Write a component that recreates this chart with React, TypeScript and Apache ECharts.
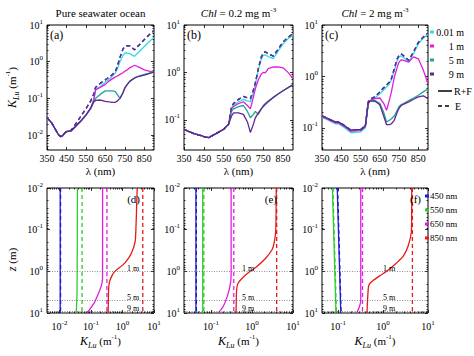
import React, { useEffect, useRef } from 'react';
import * as echarts from 'echarts';

const SERIF = "'Liberation Serif', 'Times New Roman', serif";

// ---------- top panels: spectra ----------
const LAMBDA = [350, 375, 400, 410, 420, 430, 440, 450, 460, 475, 500, 525, 550, 575, 590, 600, 625, 650, 670, 685, 700, 710, 725, 740, 750, 760, 775, 800, 825, 850, 875, 900];
const LAMBDA_TICKS = [350, 450, 550, 650, 750, 850];

// (a) pure seawater
const A_RF_001 = [0.030, 0.021, 0.0123, 0.010, 0.0091, 0.0094, 0.0112, 0.0123, 0.0127, 0.013, 0.0178, 0.0245, 0.035, 0.054, 0.09, 0.18, 0.21, 0.28, 0.33, 0.4, 0.48, 0.6, 1.0, 1.45, 1.7, 1.75, 1.65, 1.4, 1.9, 2.6, 3.5, 4.6];
const A_RF_1 = [0.030, 0.021, 0.0123, 0.010, 0.0091, 0.0094, 0.0112, 0.0123, 0.0127, 0.013, 0.0178, 0.0245, 0.035, 0.054, 0.09, 0.17, 0.2, 0.24, 0.3, 0.34, 0.38, 0.4, 0.45, 0.5, 0.55, 0.58, 0.68, 0.8, 0.7, 0.6, 0.55, 0.53];
const A_RF_5 = [0.030, 0.021, 0.0123, 0.010, 0.0091, 0.0094, 0.0112, 0.0123, 0.0127, 0.013, 0.0178, 0.0245, 0.035, 0.054, 0.08, 0.1, 0.13, 0.16, 0.16, 0.16, 0.155, 0.13, 0.1, 0.14, 0.19, 0.23, 0.29, 0.36, 0.41, 0.45, 0.49, 0.54];
const A_RF_9 = [0.030, 0.021, 0.0123, 0.010, 0.0091, 0.0094, 0.0112, 0.0123, 0.0127, 0.013, 0.0178, 0.0245, 0.035, 0.054, 0.08, 0.088, 0.09, 0.083, 0.08, 0.078, 0.078, 0.083, 0.1, 0.14, 0.19, 0.23, 0.29, 0.36, 0.4, 0.43, 0.47, 0.52];
const A_E = [0.030, 0.021, 0.0123, 0.010, 0.0091, 0.0094, 0.0112, 0.0123, 0.0127, 0.0135, 0.021, 0.033, 0.052, 0.085, 0.13, 0.2, 0.26, 0.32, 0.38, 0.44, 0.53, 0.7, 1.3, 2.2, 2.6, 2.75, 2.7, 2.1, 2.9, 4.0, 5.4, 7.0];

// (b) Chl = 0.2
const B_RF_001 = [0.063, 0.056, 0.051, 0.05, 0.048, 0.047, 0.046, 0.044, 0.043, 0.042, 0.048, 0.055, 0.063, 0.081, 0.18, 0.2, 0.24, 0.27, 0.25, 0.24, 0.38, 0.55, 1.1, 1.9, 2.3, 2.35, 2.15, 1.95, 2.8, 4.0, 5.1, 6.2];
const B_RF_1 = [0.063, 0.056, 0.051, 0.05, 0.048, 0.047, 0.046, 0.044, 0.043, 0.042, 0.048, 0.055, 0.063, 0.081, 0.17, 0.19, 0.22, 0.24, 0.2, 0.17, 0.3, 0.45, 0.7, 0.92, 1.0, 0.98, 1.2, 1.3, 1.3, 1.25, 1.0, 0.74];
const B_RF_5 = [0.063, 0.056, 0.051, 0.05, 0.048, 0.047, 0.046, 0.044, 0.043, 0.042, 0.048, 0.055, 0.063, 0.081, 0.15, 0.17, 0.19, 0.2, 0.15, 0.11, 0.13, 0.15, 0.13, 0.17, 0.2, 0.22, 0.25, 0.3, 0.35, 0.41, 0.47, 0.55];
const B_RF_9 = [0.063, 0.056, 0.051, 0.05, 0.048, 0.047, 0.046, 0.044, 0.043, 0.042, 0.048, 0.055, 0.063, 0.081, 0.12, 0.14, 0.14, 0.13, 0.09, 0.054, 0.08, 0.11, 0.14, 0.17, 0.19, 0.21, 0.24, 0.29, 0.35, 0.41, 0.48, 0.55];
const B_E = [0.063, 0.056, 0.051, 0.05, 0.048, 0.047, 0.046, 0.044, 0.043, 0.042, 0.048, 0.055, 0.063, 0.081, 0.19, 0.22, 0.27, 0.31, 0.29, 0.28, 0.42, 0.6, 1.2, 2.1, 2.6, 2.7, 2.5, 2.2, 3.1, 4.4, 5.5, 6.6];

// (c) Chl = 2
const C_RF_001 = [0.16, 0.145, 0.13, 0.125, 0.12, 0.12, 0.118, 0.11, 0.105, 0.095, 0.08, 0.082, 0.083, 0.1, 0.3, 0.34, 0.38, 0.46, 0.55, 0.62, 0.72, 0.85, 1.3, 2.0, 2.4, 2.5, 2.3, 1.9, 2.8, 4.3, 5.5, 6.7];
const C_RF_1 = [0.165, 0.15, 0.135, 0.13, 0.125, 0.125, 0.122, 0.115, 0.11, 0.1, 0.085, 0.087, 0.088, 0.105, 0.3, 0.34, 0.37, 0.38, 0.3, 0.22, 0.35, 0.5, 0.95, 1.5, 1.9, 2.1, 2.05, 1.9, 2.4, 2.2, 1.35, 0.72];
const C_RF_5 = [0.17, 0.155, 0.14, 0.135, 0.13, 0.13, 0.127, 0.12, 0.115, 0.104, 0.09, 0.091, 0.091, 0.11, 0.3, 0.33, 0.34, 0.3, 0.2, 0.13, 0.14, 0.15, 0.17, 0.22, 0.26, 0.28, 0.3, 0.34, 0.38, 0.43, 0.5, 0.57];
const C_RF_9 = [0.17, 0.155, 0.14, 0.135, 0.13, 0.13, 0.128, 0.12, 0.115, 0.105, 0.09, 0.092, 0.092, 0.11, 0.3, 0.33, 0.33, 0.28, 0.17, 0.115, 0.115, 0.12, 0.14, 0.2, 0.24, 0.27, 0.29, 0.32, 0.36, 0.4, 0.42, 0.37];
const C_E = [0.17, 0.155, 0.14, 0.135, 0.13, 0.13, 0.128, 0.12, 0.115, 0.105, 0.09, 0.092, 0.092, 0.11, 0.32, 0.36, 0.4, 0.5, 0.6, 0.68, 0.78, 0.9, 1.4, 2.2, 2.6, 2.75, 2.5, 2.05, 3.0, 4.6, 5.8, 7.0];

const TOP_RF = [
  [A_RF_001, A_RF_1, A_RF_5, A_RF_9],
  [B_RF_001, B_RF_1, B_RF_5, B_RF_9],
  [C_RF_001, C_RF_1, C_RF_5, C_RF_9],
];
const TOP_E = [A_E, B_E, C_E];

// ---------- bottom panels: profiles vs depth ----------
const Z_LINE = [0.01, 10];
const REF_DEPTHS = [1, 5, 9];

// (d)
const D_BLUE_RF = [0.0105, 0.0105];
const D_BLUE_E = [0.0108, 0.0108];
const Z_GREEN_D = [0.01, 3, 10];
const D_GREEN_RF = [0.037, 0.036, 0.034];
const D_GREEN_E = [0.052, 0.052];
const Z_MAG_D = [0.01, 1.5, 2.3, 3.3, 5.8, 10];
const D_MAG_RF = [0.233, 0.232, 0.21, 0.175, 0.125, 0.075];
const D_MAG_E = [0.32, 0.32];
const Z_RED_D = [0.01, 0.1, 0.2, 0.36, 0.5, 0.69, 1.0, 1.32, 1.9, 3, 10];
const D_RED_RF = [2.93, 2.66, 2.5, 1.95, 1.5, 1.05, 0.57, 0.45, 0.38, 0.36, 0.35];
const D_RED_E = [4.4, 4.4];

// (e)
const E_BLUE_RF = [0.043, 0.043];
const E_BLUE_E = [0.044, 0.044];
const E_GREEN_RF = [0.063, 0.063];
const E_GREEN_E = [0.067, 0.067];
const Z_MAG_E = [0.01, 1.3, 2.3, 4, 6.9, 10];
const E_MAG_RF = [0.31, 0.31, 0.29, 0.25, 0.2, 0.15];
const E_MAG_E = [0.36, 0.36];
const Z_RED_E = [0.01, 0.1, 0.2, 0.3, 0.5, 0.8, 1.0, 1.5, 2.0, 3, 10];
const E_RED_RF = [3.9, 3.8, 3.5, 3.1, 2.1, 1.25, 0.9, 0.56, 0.45, 0.42, 0.41];
const E_RED_E = [4.0, 4.0];

// (f)
const F_BLUE_RF = [0.096, 0.115];
const F_BLUE_E = [0.098, 0.117];
const F_GREEN_RF = [0.075, 0.09];
const F_GREEN_E = [0.077, 0.092];
const Z_MAG_F = [0.01, 5, 7, 10];
const F_MAG_RF = [0.32, 0.32, 0.3, 0.26];
const F_MAG_E = [0.35, 0.35];
const Z_RED_F = [0.01, 0.1, 0.25, 0.44, 0.63, 1.0, 1.27, 1.66, 2.0, 2.6, 10];
const F_RED_RF = [4.35, 4.3, 3.6, 2.8, 2.0, 1.2, 0.86, 0.6, 0.5, 0.47, 0.44];
const F_RED_E = [4.5, 4.5];

const BOTTOM = [
  {
    rf: [[Z_LINE, D_BLUE_RF], [Z_GREEN_D, D_GREEN_RF], [Z_MAG_D, D_MAG_RF], [Z_RED_D, D_RED_RF]],
    e: [[Z_LINE, D_BLUE_E], [Z_LINE, D_GREEN_E], [Z_LINE, D_MAG_E], [Z_LINE, D_RED_E]],
  },
  {
    rf: [[Z_LINE, E_BLUE_RF], [Z_LINE, E_GREEN_RF], [Z_MAG_E, E_MAG_RF], [Z_RED_E, E_RED_RF]],
    e: [[Z_LINE, E_BLUE_E], [Z_LINE, E_GREEN_E], [Z_LINE, E_MAG_E], [Z_LINE, E_RED_E]],
  },
  {
    rf: [[Z_LINE, F_BLUE_RF], [Z_LINE, F_GREEN_RF], [Z_MAG_F, F_MAG_RF], [Z_RED_F, F_RED_RF]],
    e: [[Z_LINE, F_BLUE_E], [Z_LINE, F_GREEN_E], [Z_LINE, F_MAG_E], [Z_LINE, F_RED_E]],
  },
];

const DEPTH_NAMES = ['0.01 m', '1 m', '5 m', '9 m'];
const DEPTH_COLORS = ['#2fdde6', '#e01ee0', '#1fa597', '#66248f'];
const WAVE_NAMES = ['450 nm', '550 nm', '650 nm', '850 nm'];
const WAVE_COLORS = ['#1c1cd0', '#2ecb2e', '#e01ee0', '#e41a1a'];

const TOP_TITLES = ['Pure seawater ocean', '{it|Chl}{n| = 0.2 mg m}{sup|-3}', '{it|Chl}{n| = 2 mg m}{sup|-3}'];
const TOP_LETTERS = ['(a)', '(b)', '(c)'];
const BOTTOM_LETTERS = ['(d)', '(e)', '(f)'];

// layout
const LEFTS = [47, 184, 322];
const WIDTHS = [107, 109, 106];
const TOP_Y = 25;
const BOT_Y = 188;
const PANEL_H = 125;
const TOP_YMIN = [0.0039, 0.023, 0.037];
const TOP_YTICKS = [[0.01, 0.1, 1, 10], [0.1, 1, 10], [0.1, 1, 10]];
const BOT_XMIN = [0.004, 0.022, 0.044];
const BOT_XTICKS = [[0.01, 0.1, 1, 10], [0.1, 1, 10], [0.1, 1, 10]];
const BOT_YTICKS = [0.01, 0.1, 1, 10];
const DECADES = [0.001, 0.01, 0.1, 1];
const MINOR_STEPS = [2, 3, 4, 5, 6, 7, 8, 9];

const minorTicks = (min: number, max: number) => {
  const out: number[] = [];
  DECADES.forEach((d) => MINOR_STEPS.forEach((s) => {
    const v = d * s;
    if (v > min && v < max) out.push(v);
  }));
  return out;
};

const tickRich = {
  n: { fontFamily: SERIF, fontSize: 10, color: '#000', lineHeight: 14, verticalAlign: 'middle' },
  s: { fontFamily: SERIF, fontSize: 7, color: '#000', lineHeight: 7, verticalAlign: 'top' },
};
const nameRich = {
  it: { fontFamily: SERIF, fontStyle: 'italic', fontSize: 12, color: '#000', lineHeight: 16, verticalAlign: 'middle' },
  n: { fontFamily: SERIF, fontSize: 11, color: '#000', lineHeight: 16, verticalAlign: 'middle' },
  sub: { fontFamily: SERIF, fontStyle: 'italic', fontSize: 8, color: '#000', lineHeight: 8, verticalAlign: 'bottom' },
  sup: { fontFamily: SERIF, fontSize: 7, color: '#000', lineHeight: 7, verticalAlign: 'top' },
};
const KLU_NAME = '{it|K}{sub|Lu}{n| (m}{sup|-1}{n|)}';

const powLabel = (v: number) => {
  const e = Math.log10(v);
  if (Math.abs(e - Math.round(e)) > 0.01) return '';
  return `{n|10}{s|${Math.round(e)}}`;
};

const tickStyle = (values: number[], length = 3) => ({
  inside: true,
  length,
  customValues: values,
  lineStyle: { color: '#000', width: 0.8 },
});

const bareAxis = (type: string, gridIndex: number, min: number, max: number, position: string, ticks: number[], length: number, inverse = false) => ({
  type, gridIndex, min, max, position, inverse,
  ...(type === 'log' ? { logBase: 10 } : {}),
  axisLine: { show: false }, splitLine: { show: false },
  axisTick: tickStyle(ticks, length), axisLabel: { show: false },
});

export default function App() {
  const ref = useRef<HTMLDivElement>(null);

  useEffect(() => {
    if (!ref.current) return;
    const chart = echarts.init(ref.current, null, { renderer: 'svg' });

    const grids: any[] = [];
    const xAxes: any[] = [];
    const yAxes: any[] = [];
    const series: any[] = [];

    // top panels
    for (let i = 0; i < 3; i++) {
      grids.push({ left: LEFTS[i], top: TOP_Y, width: WIDTHS[i], height: PANEL_H, show: true, borderColor: '#000', borderWidth: 1, backgroundColor: 'transparent', containLabel: false, outerBoundsMode: 'none' });
      const xi = xAxes.length;
      xAxes.push({
        type: 'value', gridIndex: i, min: 350, max: 900, position: 'bottom',
        axisLine: { show: false }, splitLine: { show: false },
        axisTick: tickStyle(LAMBDA_TICKS),
        axisLabel: { customValues: LAMBDA_TICKS, fontFamily: SERIF, fontSize: 10, color: '#000', margin: 3 },
        name: 'λ (nm)', nameLocation: 'middle', nameGap: 15,
        nameTextStyle: { fontFamily: SERIF, fontSize: 11, color: '#000' },
      });
      xAxes.push(bareAxis('value', i, 350, 900, 'top', LAMBDA_TICKS, 3));
      const yi = yAxes.length;
      yAxes.push({
        type: 'log', logBase: 10, gridIndex: i, min: TOP_YMIN[i], max: 10, position: 'left',
        axisLine: { show: false }, splitLine: { show: false },
        axisTick: tickStyle(TOP_YTICKS[i]),
        axisLabel: { customValues: TOP_YTICKS[i], formatter: powLabel, rich: tickRich, margin: 4 },
        name: i === 0 ? KLU_NAME : '', nameLocation: 'middle', nameGap: 27,
        nameTextStyle: { rich: nameRich },
      });
      const yMinor = minorTicks(TOP_YMIN[i], 10);
      yAxes.push(bareAxis('log', i, TOP_YMIN[i], 10, 'right', TOP_YTICKS[i], 3));
      yAxes.push(bareAxis('log', i, TOP_YMIN[i], 10, 'left', yMinor, 1.5));
      yAxes.push(bareAxis('log', i, TOP_YMIN[i], 10, 'right', yMinor, 1.5));
      for (let d = 0; d < 4; d++) {
        series.push({
          type: 'line', name: `${DEPTH_NAMES[d]} R+F`, xAxisIndex: xi, yAxisIndex: yi,
          data: LAMBDA.map((l, k) => [l, TOP_RF[i][d][k]]),
          showSymbol: false, symbol: 'none', silent: true,
          lineStyle: { color: DEPTH_COLORS[d], width: 1.3 },
        });
        series.push({
          type: 'line', name: `${DEPTH_NAMES[d]} E`, xAxisIndex: xi, yAxisIndex: yi,
          data: LAMBDA.map((l, k) => [l, TOP_E[i][k]]),
          showSymbol: false, symbol: 'none', silent: true,
          lineStyle: { color: DEPTH_COLORS[d], width: 1.3, type: [4, 3] },
        });
      }
    }

    // bottom panels
    for (let j = 0; j < 3; j++) {
      const g = 3 + j;
      grids.push({ left: LEFTS[j], top: BOT_Y, width: WIDTHS[j], height: PANEL_H, show: true, borderColor: '#000', borderWidth: 1, backgroundColor: 'transparent', containLabel: false, outerBoundsMode: 'none' });
      const xi = xAxes.length;
      xAxes.push({
        type: 'log', logBase: 10, gridIndex: g, min: BOT_XMIN[j], max: 10, position: 'bottom',
        axisLine: { show: false }, splitLine: { show: false },
        axisTick: tickStyle(BOT_XTICKS[j]),
        axisLabel: { customValues: BOT_XTICKS[j], formatter: powLabel, rich: tickRich, margin: 6 },
        name: KLU_NAME, nameLocation: 'middle', nameGap: 20,
        nameTextStyle: { rich: nameRich },
      });
      const xMinor = minorTicks(BOT_XMIN[j], 10);
      xAxes.push(bareAxis('log', g, BOT_XMIN[j], 10, 'top', BOT_XTICKS[j], 3));
      xAxes.push(bareAxis('log', g, BOT_XMIN[j], 10, 'bottom', xMinor, 1.5));
      xAxes.push(bareAxis('log', g, BOT_XMIN[j], 10, 'top', xMinor, 1.5));
      const yi = yAxes.length;
      yAxes.push({
        type: 'log', logBase: 10, gridIndex: g, min: 0.01, max: 10, inverse: true, position: 'left',
        axisLine: { show: false }, splitLine: { show: false },
        axisTick: tickStyle(BOT_YTICKS),
        axisLabel: { customValues: BOT_YTICKS, formatter: powLabel, rich: tickRich, margin: 4 },
        name: j === 0 ? '{it|z}{n| (m)}' : '', nameLocation: 'middle', nameGap: 27,
        nameTextStyle: { rich: nameRich, padding: [0, 0, 0, -18] },
      });
      const zMinor = minorTicks(0.01, 10);
      yAxes.push(bareAxis('log', g, 0.01, 10, 'right', BOT_YTICKS, 3, true));
      yAxes.push(bareAxis('log', g, 0.01, 10, 'left', zMinor, 1.5, true));
      yAxes.push(bareAxis('log', g, 0.01, 10, 'right', zMinor, 1.5, true));
      for (let w = 0; w < 4; w++) {
        const [zr, kr] = BOTTOM[j].rf[w];
        const [ze, ke] = BOTTOM[j].e[w];
        const rfSeries: any = {
          type: 'line', name: `${WAVE_NAMES[w]} R+F`, xAxisIndex: xi, yAxisIndex: yi,
          data: zr.map((z, k) => [kr[k], z]),
          showSymbol: false, symbol: 'none', silent: true, smooth: 0.25,
          lineStyle: { color: WAVE_COLORS[w], width: 1.3 },
        };
        if (w === 0) {
          rfSeries.markLine = {
            silent: true, symbol: 'none', animation: false,
            label: { show: false },
            lineStyle: { color: '#444', type: [1, 1.5], width: 0.6 },
            data: REF_DEPTHS.map((z) => ({ yAxis: z })),
          };
        }
        series.push(rfSeries);
        series.push({
          type: 'line', name: `${WAVE_NAMES[w]} E`, xAxisIndex: xi, yAxisIndex: yi,
          data: ze.map((z, k) => [ke[k], z]),
          showSymbol: false, symbol: 'none', silent: true,
          lineStyle: { color: WAVE_COLORS[w], width: 1.3, type: [4, 3] },
        });
      }
    }

    const txt = (x: number, y: number, text: string, size: number, align = 'left', extra: any = {}) => ({
      type: 'text', x, y, z: 100, silent: true,
      style: { text, fill: '#000', fontFamily: SERIF, fontSize: size, align, verticalAlign: 'middle', ...extra },
    });

    const graphic: any[] = [];
    // titles
    const titleRich = {
      it: { fontFamily: SERIF, fontStyle: 'italic', fontSize: 11, fill: '#000', lineHeight: 14, verticalAlign: 'middle' },
      n: { fontFamily: SERIF, fontSize: 11, fill: '#000', lineHeight: 14, verticalAlign: 'middle' },
      sup: { fontFamily: SERIF, fontSize: 7, fill: '#000', lineHeight: 7, verticalAlign: 'top' },
    };
    TOP_TITLES.forEach((t, i) => {
      const cx = LEFTS[i] + WIDTHS[i] / 2;
      if (i === 0) graphic.push(txt(cx, 13, t, 11, 'center'));
      else graphic.push(txt(cx, 13, t, 11, 'center', { rich: titleRich }));
    });
    // panel letters
    TOP_LETTERS.forEach((t, i) => graphic.push(txt(LEFTS[i] + 3, 35, t, 12, 'left')));
    const letterRight = [140, 277, 421];
    BOTTOM_LETTERS.forEach((t, j) => graphic.push(txt(letterRight[j], 199, t, 11, 'right')));
    // depth labels in bottom panels
    const depthLabelX = [133, 248, 389];
    const depthLabelY = [268, 297, 308];
    for (let j = 0; j < 3; j++) {
      REF_DEPTHS.forEach((z, k) => graphic.push(txt(depthLabelX[j], depthLabelY[k], `${z} m`, 8, 'center')));
    }
    // top legend
    const topLegY = [32, 46, 60, 74];
    DEPTH_NAMES.forEach((n, d) => {
      graphic.push({ type: 'rect', z: 100, silent: true, shape: { x: 430, y: topLegY[d] - 1.5, width: 4, height: 3 }, style: { fill: DEPTH_COLORS[d] } });
      graphic.push(txt(464, topLegY[d], n, 10, 'right'));
    });
    graphic.push({ type: 'line', z: 100, silent: true, shape: { x1: 438, y1: 91, x2: 452, y2: 91 }, style: { stroke: '#000', lineWidth: 1.5 } });
    graphic.push(txt(454, 91, 'R+F', 10, 'left'));
    graphic.push({ type: 'line', z: 100, silent: true, shape: { x1: 438, y1: 106, x2: 452, y2: 106 }, style: { stroke: '#000', lineWidth: 1.5, lineDash: [4, 3] } });
    graphic.push(txt(455, 106, 'E', 10, 'left'));
    // bottom legend
    const botLegY = [196, 210, 224, 238];
    WAVE_NAMES.forEach((n, w) => {
      graphic.push({ type: 'rect', z: 100, silent: true, shape: { x: 425, y: botLegY[w] - 1.5, width: 4, height: 3 }, style: { fill: WAVE_COLORS[w] } });
      graphic.push(txt(430, botLegY[w], n, 9, 'left'));
    });

    chart.setOption({
      animation: false,
      backgroundColor: '#fff',
      grid: grids,
      xAxis: xAxes,
      yAxis: yAxes,
      series,
      graphic,
    });

    return () => chart.dispose();
  }, []);

  return <div ref={ref} style={{ position: 'absolute', left: 0, top: 0, width: 474, height: 356 }} />;
}
